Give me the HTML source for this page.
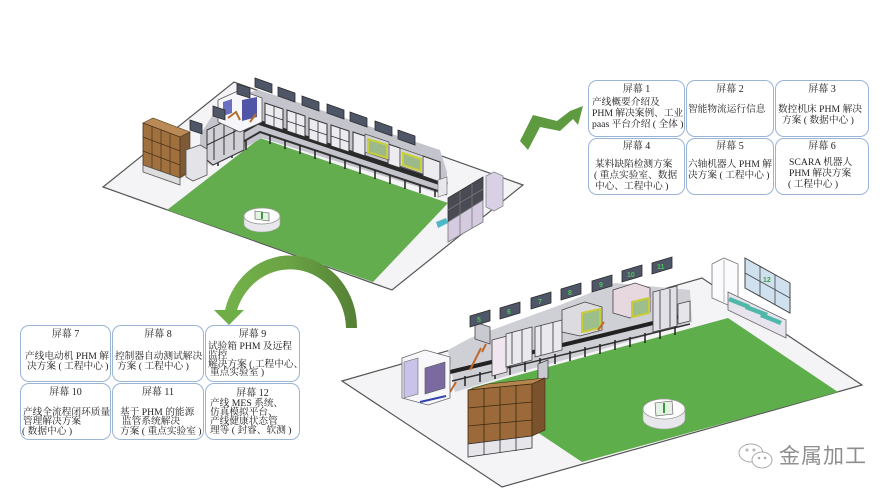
<!DOCTYPE html>
<html><head><meta charset="utf-8">
<style>
html,body{margin:0;padding:0;background:#fff;}
body{width:896px;height:497px;position:relative;overflow:hidden;font-family:"Liberation Serif","Noto Serif CJK SC",serif;color:#222;}
.b{position:absolute;border:1px solid #9ab4d6;border-radius:9px;background:#fff;box-sizing:border-box;}
.t{position:absolute;font-size:9.7px;line-height:12px;white-space:nowrap;}
.c{text-align:center;font-size:10px;}
svg{position:absolute;left:0;top:0;}
.wm{position:absolute;left:779px;top:444px;font-family:"Liberation Sans","Noto Sans CJK SC",sans-serif;font-size:21px;line-height:26px;color:#8e8e8e;letter-spacing:1px;white-space:nowrap;}
</style></head><body>
<svg width="896" height="497" viewBox="0 0 896 497">
<defs>
<linearGradient id="ga" x1="0" y1="0" x2="1" y2="0">
<stop offset="0" stop-color="#74b24a"/><stop offset="0.5" stop-color="#6aa244"/><stop offset="1" stop-color="#557f35"/>
</linearGradient>
</defs>
<!-- TOP SLAB -->
<polygon points="103,187 234,82 523,185 392,290" fill="#f4f3f6" stroke="#555" stroke-width="1.2"/>
<polygon points="167,210 260,138 448,203 373,282" fill="#63ad4e"/>
<!-- machine band top -->
<polygon points="200,135 222,100 258,90 300,103 440,150 447,172 447,196 262,138 212,166 200,158" fill="#c4c4cc"/>
<polyline points="205,152 258,122 447,185" stroke="#2a2a2a" stroke-width="5" fill="none"/>
<polyline points="210,161 260,132 447,194" stroke="#333" stroke-width="2" fill="none"/>
<path d="M270,135v9M285,140v9M300,145v9M315,150v9M330,155v9M345,160v9M360,165v9M375,170v9M390,175v9M405,180v9M420,185v8M435,190v7M218,157v9M232,149v9M246,141v9" stroke="#222" stroke-width="1.5"/>
<g fill="#ececf0" stroke="#333" stroke-width="1">
<polygon points="265,103 283,109 283,130 265,124"/>
<polygon points="287,110 305,116 305,137 287,131"/>
<polygon points="309,118 327,124 327,145 309,139"/>
<polygon points="331,125 349,131 349,152 331,146"/>
<polygon points="353,132 365,136 365,156 353,152"/>
<polygon points="388,144 400,148 400,168 388,164"/>
<polygon points="423,156 440,162 440,182 423,176"/>
</g>
<path d="M274,106v21M296,113v21M318,121v21M340,128v21M265,114l18,6M287,121l18,6M309,129l18,6M331,136l18,6" stroke="#333" stroke-width="0.8"/>
<polygon points="365,134 389,142 389,160 365,152" fill="#d4d4d8" stroke="#555" stroke-width="0.8"/>
<polygon points="368,139 387,145 387,158 368,152" fill="#9bb98a" stroke="#c9cf3a" stroke-width="2"/>
<polygon points="400,148 423,156 423,174 400,166" fill="#d4d4d8" stroke="#555" stroke-width="0.8"/>
<polygon points="403,153 421,159 421,171 403,165" fill="#9bb98a" stroke="#c9cf3a" stroke-width="2"/>
<!-- left segment -->
<polygon points="207,130 238,115 244,125 244,150 213,165 207,160" fill="#d0d0d6" stroke="#333" stroke-width="1"/>
<path d="M214,128v32M224,123v32M234,118v32M207,145l37,-18" stroke="#333" stroke-width="1" fill="none"/>
<polygon points="218,100 240,90 262,98 262,122 240,132 218,122" fill="#f7f7fb" stroke="#555" stroke-width="0.8"/>
<polygon points="242,100 257,97 257,117 242,121" fill="#5055a8"/>
<polygon points="223,102 232,99 232,113 223,116" fill="#6a6fc0"/>
<path d="M228,118l8,-6l4,8M250,122l6,-8" stroke="#b0702a" stroke-width="2" fill="none"/>
<!-- shelf top -->
<polygon points="143,123 153,118 190,132 180,137" fill="#b98a55" stroke="#5a3e20" stroke-width="0.6"/>
<polygon points="143,123 180,137 180,178 143,165" fill="#a0703f" stroke="#4a3218" stroke-width="0.8"/>
<polygon points="180,137 190,132 190,172 180,178" fill="#7d5a35" stroke="#4a3218" stroke-width="0.6"/>
<path d="M152,127v41M161,130v41M170,134v41M143,137l37,14M143,151l37,14" stroke="#4a3218" stroke-width="0.7"/>
<polygon points="143,165 180,178 180,185 143,172" fill="#ddd" stroke="#555" stroke-width="0.8"/>
<polygon points="186,150 200,145 207,149 207,175 193,181 186,177" fill="#e3e3e8" stroke="#555" stroke-width="0.8"/>
<!-- top monitors -->
<g fill="#4f5668" stroke="#2a2a2a" stroke-width="0.8">
<polygon points="190,120 202,124 202,134 190,130"/>
<polygon points="213,106 225,110 225,120 213,116"/>
<polygon points="237,84 250,88 250,98 237,94"/>
<polygon points="255,78 272,84 272,93 255,87"/>
<polygon points="278,87 295,93 295,102 278,96"/>
<polygon points="302,96 319,102 319,111 302,105"/>
<polygon points="327,104 344,110 344,119 327,113"/>
<polygon points="350,112 367,118 367,127 350,121"/>
<polygon points="375,121 392,127 392,136 375,130"/>
<polygon points="398,130 415,136 415,145 398,139"/>
</g>
<!-- screen wall top -->
<polygon points="448,198 483,177 483,200 448,222" fill="#4a4a55" stroke="#333" stroke-width="0.8"/>
<polygon points="448,222 483,200 483,222 448,242" fill="#d4cbe0" stroke="#777" stroke-width="0.8"/>
<path d="M460,191v44M472,184v44M448,210l35,-21" stroke="#777" stroke-width="0.8"/>
<polygon points="486,176 494,172 503,176 503,206 494,211 486,207" fill="#d9d0e6" stroke="#888" stroke-width="0.8"/>
<polygon points="436,222 446,218 448,223 438,228" fill="#4fb8c8"/>
<polygon points="438,180 447,177 447,194 438,197" fill="#e8e8ec" stroke="#666" stroke-width="0.6"/>
<!-- podium top -->
<path d="M244,216v8a18,8 0 0 0 36,0v-8z" fill="#e8e8ec" stroke="#aaa" stroke-width="0.6"/>
<ellipse cx="262" cy="216" rx="18" ry="8" fill="#fff" stroke="#999" stroke-width="0.8"/>
<polygon points="255,211 269,213 269,221 255,219" fill="#e6f2e6" stroke="#555" stroke-width="0.6"/>
<path d="M262,212v7" stroke="#3a9a3a" stroke-width="2"/>

<!-- BOTTOM SLAB -->
<polygon points="342,381 702,278 862,385 502,487" fill="#f4f3f6" stroke="#555" stroke-width="1.2"/>
<polygon points="471,388 728,318 838,392 582,462" fill="#5fae4c"/>
<!-- machine band -->
<polygon points="448,350 470,338 560,305 615,283 690,290 692,322 600,350 520,372 455,392" fill="#cfcfd6"/>
<polyline points="450,372 600,336 690,314" stroke="#222" stroke-width="4" fill="none"/>
<polyline points="452,381 600,346 690,324" stroke="#333" stroke-width="1.5" fill="none"/>
<path d="M465,376v10M480,372v10M495,369v10M510,365v10M525,362v10M540,358v10M555,354v10M570,351v10M585,347v10M600,344v10M615,340v10M630,337v10M645,333v10M660,330v9M675,326v9" stroke="#222" stroke-width="1.5"/>
<g stroke="#444" stroke-width="0.8">
<polygon points="492,340 507,336 507,372 492,376" fill="#f0e6f0"/>
<polygon points="506,334 532,327 532,360 506,367" fill="#eaeaee"/>
<polygon points="535,327 562,320 562,350 535,357" fill="#eaeaee"/>
<polygon points="562,310 585,302 602,307 602,330 580,336 562,332" fill="#dcdce0"/>
<polygon points="613,290 635,283 650,288 650,312 630,318 613,313" fill="#e6d8de"/>
<polygon points="653,292 677,286 677,326 653,332" fill="#e0e0e6"/>
<polygon points="678,304 690,301 690,321 678,324" fill="#e6e6ea"/>
<polygon points="475,322 490,327 490,344 475,339" fill="#c9c9d2"/>
<polygon points="538,364 548,360 548,378 538,382" fill="#c9c9d2"/>
</g>
<path d="M512,332v32M522,330v32M541,325v30M553,322v30M660,291v38M670,289v38" stroke="#333" stroke-width="0.8"/>
<polygon points="582,313 600,309 600,328 582,332" fill="#9cbf8c" stroke="#c8cc38" stroke-width="2"/>
<polygon points="632,302 649,298 649,313 632,317" fill="#9cbf8c" stroke="#c8cc38" stroke-width="2"/>
<path d="M470,370l6,-12l5,-10M482,352l4,-8M450,392l6,-10M598,330l6,-8" stroke="#c0682a" stroke-width="2" fill="none"/>
<!-- CNC -->
<polygon points="402,358 425,350 450,357 450,398 428,405 402,398" fill="#f8f8fb" stroke="#666" stroke-width="0.8"/>
<polygon points="404,362 418,358 418,394 404,398" fill="#c9c3ea" stroke="#666" stroke-width="0.6"/>
<polygon points="425,368 445,362 445,388 425,394" fill="#7a6aa0" stroke="#555" stroke-width="0.6"/>
<path d="M420,402l26,-6" stroke="#3344aa" stroke-width="2"/>
<!-- shelf bottom -->
<polygon points="468,390 488,384 545,378 532,384" fill="#b58550" stroke="#4a3218" stroke-width="0.6"/>
<polygon points="468,390 532,384 532,436 468,444" fill="#9c6a3a" stroke="#3a2810" stroke-width="0.8"/>
<path d="M484,388v54M500,387v53M516,385v53M468,408l64,-6M468,426l64,-6" stroke="#3a2810" stroke-width="0.8"/>
<polygon points="532,384 545,378 545,430 532,436" fill="#7a532c" stroke="#3a2810" stroke-width="0.6"/>
<polygon points="468,444 532,436 532,448 468,457" fill="#e6e6ea" stroke="#333" stroke-width="0.8"/>
<path d="M484,442v13M500,440v13M516,438v13" stroke="#333" stroke-width="0.8"/>
<!-- bottom monitors -->
<g fill="#4f5668" stroke="#2a2a2a" stroke-width="0.8">
<polygon points="470,316 490,310 490,321 470,327"/>
<polygon points="500,308 520,302 520,313 500,319"/>
<polygon points="531,298 551,292 551,303 531,309"/>
<polygon points="561,289 581,283 581,294 561,300"/>
<polygon points="592,281 612,275 612,286 592,292"/>
<polygon points="622,271 642,265 642,276 622,282"/>
<polygon points="652,263 672,257 672,268 652,274"/>
</g>
<g font-family="Liberation Sans, sans-serif" font-size="7" fill="#4ec25a" font-weight="bold">
<text x="477" y="322">5</text><text x="507" y="314">6</text><text x="538" y="304">7</text><text x="568" y="295">8</text><text x="599" y="287">9</text><text x="627" y="277">10</text><text x="657" y="269">11</text>
</g>
<!-- control room -->
<polygon points="712,264 724,258 738,264 738,300 728,305 712,298" fill="#fbfbfd" stroke="#777" stroke-width="0.8"/>
<path d="M724,260v42" stroke="#888" stroke-width="0.6"/>
<polygon points="728,292 786,320 786,338 728,310" fill="#e8e4ee" stroke="#666" stroke-width="0.8"/>
<polygon points="745,258 790,283 790,313 745,288" fill="#cfe0ee" stroke="#444" stroke-width="1"/>
<path d="M760,266v30M775,275v30M745,273l45,25" stroke="#444" stroke-width="0.8"/>
<text x="763" y="282" font-family="Liberation Sans, sans-serif" font-size="7" fill="#3aa04a" font-weight="bold">12</text>
<polygon points="730,297 750,305 748,309 728,301" fill="#4fb8a8"/>
<polygon points="747,305 768,313 766,317 745,309" fill="#4fb8a8"/>
<polygon points="762,313 782,321 780,325 760,317" fill="#4fb8a8"/>
<!-- podium bottom -->
<path d="M643,409v10a21,10 0 0 0 42,0v-10z" fill="#e8e8ec" stroke="#aaa" stroke-width="0.6"/>
<ellipse cx="664" cy="409" rx="21" ry="10" fill="#fff" stroke="#999" stroke-width="0.8"/>
<polygon points="655,403 672,401 673,414 656,416" fill="#e6f2e6" stroke="#555" stroke-width="0.6"/>
<path d="M664,403v10" stroke="#3a9a3a" stroke-width="2"/>

<!-- curved arrow -->
<path d="M357,328 A67,72 0 0 0 225,310 L237,310 A56,60 0 0 1 346,328 Z" fill="url(#ga)"/>
<polygon points="214,310 244,310 229,325" fill="#6fae47"/>
<!-- zigzag arrow -->
<polygon points="520,141 533,115 557,121 570,111 583,106 578,125 573,119 560,131 540,127 528,150" fill="#5e9b40"/>
<!-- wechat icon -->
<g fill="none" stroke="#aaa" stroke-width="1">
<ellipse cx="751" cy="453" rx="12" ry="9"/>
<ellipse cx="762" cy="460" rx="10" ry="8" fill="#fff"/>
<circle cx="747" cy="450" r="1"/><circle cx="754" cy="450" r="1"/>
<circle cx="759" cy="458" r="0.8"/><circle cx="765" cy="458" r="0.8"/>
</g>
</svg>

<!-- top-right boxes -->
<div class="b" style="left:588px;top:80px;width:97px;height:57px"></div>
<div class="b" style="left:686px;top:80px;width:88px;height:57px"></div>
<div class="b" style="left:775px;top:80px;width:94px;height:57px"></div>
<div class="b" style="left:588px;top:138px;width:97px;height:57px"></div>
<div class="b" style="left:686px;top:138px;width:88px;height:57px"></div>
<div class="b" style="left:775px;top:138px;width:94px;height:57px"></div>

<div class="t c" style="left:588px;top:84px;width:97px">屏幕 1</div>
<div class="t" style="left:592px;top:97px">产线概要介绍及</div>
<div class="t" style="left:592px;top:108px">PHM 解决案例、工业</div>
<div class="t" style="left:592px;top:119px">paas 平台介绍 ( 全体 )</div>

<div class="t c" style="left:686px;top:84px;width:88px">屏幕 2</div>
<div class="t" style="left:688px;top:104px">智能物流运行信息</div>

<div class="t c" style="left:775px;top:84px;width:94px">屏幕 3</div>
<div class="t" style="left:778px;top:104px">数控机床 PHM 解决</div>
<div class="t" style="left:782px;top:115px">方案 ( 数据中心 )</div>

<div class="t c" style="left:588px;top:141px;width:97px">屏幕 4</div>
<div class="t" style="left:595px;top:159px">某料缺陷检测方案</div>
<div class="t" style="left:594px;top:170px">( 重点实验室、数据</div>
<div class="t" style="left:595px;top:181px">中心、工程中心 )</div>

<div class="t c" style="left:686px;top:141px;width:88px">屏幕 5</div>
<div class="t" style="left:688px;top:159px">六轴机器人 PHM 解</div>
<div class="t" style="left:688px;top:170px">决方案 ( 工程中心 )</div>

<div class="t c" style="left:775px;top:141px;width:94px">屏幕 6</div>
<div class="t" style="left:789px;top:157px">SCARA 机器人</div>
<div class="t" style="left:789px;top:168px">PHM 解决方案</div>
<div class="t" style="left:788px;top:179px">( 工程中心 )</div>

<!-- bottom-left boxes -->
<div class="b" style="left:20px;top:325px;width:91px;height:57px"></div>
<div class="b" style="left:112px;top:325px;width:92px;height:57px"></div>
<div class="b" style="left:205px;top:325px;width:95px;height:57px"></div>
<div class="b" style="left:20px;top:383px;width:91px;height:57px"></div>
<div class="b" style="left:112px;top:383px;width:92px;height:57px"></div>
<div class="b" style="left:205px;top:383px;width:95px;height:57px"></div>

<div class="t c" style="left:20px;top:329px;width:91px">屏幕 7</div>
<div class="t" style="left:25px;top:351px">产线电动机 PHM 解</div>
<div class="t" style="left:27px;top:361px">决方案 ( 工程中心 )</div>

<div class="t c" style="left:112px;top:329px;width:92px">屏幕 8</div>
<div class="t" style="left:115px;top:351px">控制器自动测试解决</div>
<div class="t" style="left:117px;top:361px">方案 ( 工程中心 )</div>

<div class="t c" style="left:205px;top:329px;width:95px">屏幕 9</div>
<div class="t" style="left:208px;top:341px">试验箱 PHM 及远程</div>
<div class="t" style="left:208px;top:350px">监控</div>
<div class="t" style="left:208px;top:359px">解决方案 ( 工程中心、</div>
<div class="t" style="left:210px;top:367px">重点实验室 )</div>

<div class="t c" style="left:20px;top:387px;width:91px">屏幕 10</div>
<div class="t" style="left:23px;top:407px">产线全流程闭环质量</div>
<div class="t" style="left:23px;top:416px">管理解决方案</div>
<div class="t" style="left:22px;top:426px">( 数据中心 )</div>

<div class="t c" style="left:112px;top:387px;width:92px">屏幕 11</div>
<div class="t" style="left:120px;top:407px">基于 PHM 的能源</div>
<div class="t" style="left:122px;top:416px">监管系统解决</div>
<div class="t" style="left:120px;top:426px">方案 ( 重点实验室 )</div>

<div class="t c" style="left:205px;top:388px;width:95px">屏幕 12</div>
<div class="t" style="left:210px;top:398px">产线 MES 系统、</div>
<div class="t" style="left:210px;top:407px">仿真模拟平台、</div>
<div class="t" style="left:210px;top:416px">产线健康状态管</div>
<div class="t" style="left:210px;top:425px">理等 ( 封睿、软测 )</div>

<div class="wm">金属加工</div>
</body></html>
